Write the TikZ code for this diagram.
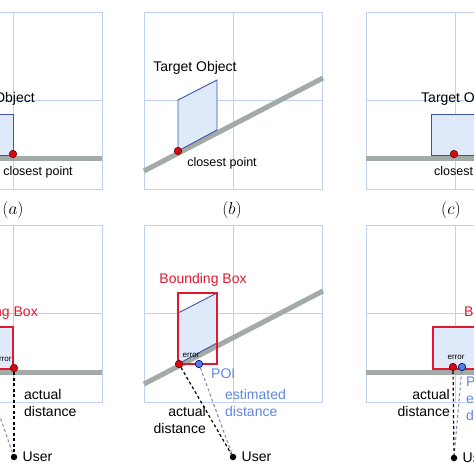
\documentclass[tikz,border=0pt]{standalone}
\usepackage{fontspec}
\setmainfont{Liberation Sans}
\usetikzlibrary{positioning}

\definecolor{gridBlue}{RGB}{192,208,242}
\definecolor{roadGray}{RGB}{163,171,167}
\definecolor{objFill}{RGB}{222,234,250}
\definecolor{objEdge}{RGB}{62,82,172}
\definecolor{boxRed}{RGB}{226,24,48}
\definecolor{dotRed}{RGB}{215,10,20}
\definecolor{dotBlue}{RGB}{80,125,232}
\definecolor{textBlue}{RGB}{95,135,225}
\definecolor{lineBlue}{RGB}{125,145,200}

\begin{document}
\begin{tikzpicture}[x=1pt,y=-1pt,
		every node/.style={inner sep=0pt,font=\fontsize{14}{17}\selectfont}]
	\tikzstyle{Frame}=[draw=gridBlue,line width=1pt]
	\tikzstyle{GridLine}=[draw=gridBlue,line width=0.8pt]
	\tikzstyle{Road}=[draw=roadGray,line width=5pt]
	\tikzstyle{Obj}=[fill=objFill,draw=objEdge,line width=0.9pt]
	\tikzstyle{BBox}=[draw=boxRed,line width=2.8pt]
	\tikzstyle{RedDot}=[circle,fill=dotRed,draw=red!45!black,line width=0.6pt,minimum size=7.5pt]
	\tikzstyle{BlueDot}=[circle,fill=dotBlue,draw=blue!45!black,line width=0.6pt,minimum size=7.5pt]
	\tikzstyle{UserDot}=[circle,fill=black,minimum size=6.5pt]
	\tikzstyle{ActualLine}=[draw=black,line width=1.2pt,dash pattern=on 3pt off 2.5pt]
	\tikzstyle{EstLine}=[draw=lineBlue,line width=1.1pt,dash pattern=on 3pt off 2.5pt]
	\tikzstyle{Small}=[font=\fontsize{12.5}{15}\selectfont]
	\tikzstyle{Tiny}=[font=\fontsize{8}{9}\selectfont]
	\tikzstyle{Caption}=[font=\fontsize{16}{18}\selectfont]

	\clip (0,0) rectangle (474,474);

	% panel frames with their middle grid lines
	\foreach \x in {-76,144,366}
	\foreach \y in {12,225} {
		\draw[GridLine] (\x+89,\y) -- (\x+89,\y+177);
		\draw[GridLine] (\x,\y+88) -- (\x+178,\y+88);
		\draw[Frame] (\x,\y) rectangle (\x+178,\y+177);
	}

	% (a) top
	\draw[Road] (-76,158) -- (102,158);
	\draw[Obj] (-40,114) rectangle (13,155.5);
	\node[RedDot] (closestA) at (13,154) {};
	\node[anchor=east] (objA) at (35,99) {Target Object};
	\node[Small] (closestTxtA) at (38,172) {closest point};

	% (b) top
	\draw[Road] (144,171) -- (323,78);
	\draw[Obj] (178,151) -- (178,100) -- (217,80) -- (217,130) -- cycle;
	\node[RedDot] (closestB) at (178,151) {};
	\node (objB) at (195,68) {Target Object};
	\node[Small] (closestTxtB) at (222,163) {closest point};

	% (c) top
	\draw[Road] (366,158) -- (544,158);
	\draw[Obj] (431,114) rectangle (495,155.5);
	\node[RedDot] (closestC) at (454,154) {};
	\node[anchor=west] (objC) at (421,99) {Target Object};
	\node[Small,anchor=west] (closestTxtC) at (434,172) {closest point};

	% captions
	\node[Caption] (capA) at (13,210) {$(a)$};
	\node[Caption] (capB) at (232,210) {$(b)$};
	\node[Caption] (capC) at (451,210) {$(c)$};

	% (a) bottom
	\draw[Road] (-76,372) -- (102,372);
	\fill[objFill] (-40,327) rectangle (13,369);
	\draw[BBox] (-40,327) rectangle (13,369);
	\node[anchor=east,text=boxRed] (boxTxtA) at (38,313) {Bounding Box};
	\node[UserDot] (userA) at (14,457) {};
	\node[RedDot] (actualA) at (14,368) {};
	\node[BlueDot] (poiA) at (-17,368) {};
	\draw[EstLine] (poiA) -- (userA);
	\draw[ActualLine] (actualA) -- (userA);
	\node[Tiny] (errA) at (3,359) {error};
	\node[anchor=west,align=left] (actualTxtA) at (24,403) {actual\\distance};
	\node[right=5pt of userA] (userTxtA) {User};

	% (b) bottom
	\draw[Road] (144,384) -- (323,291);
	\draw[Obj] (178,364) -- (178,313) -- (217,293) -- (217,343) -- cycle;
	\draw[BBox] (178,293) rectangle (217,364);
	\node[text=boxRed] (boxTxtB) at (203,280) {Bounding Box};
	\node[UserDot] (userB) at (233,457) {};
	\node[RedDot] (actualB) at (179,364) {};
	\node[BlueDot] (poiB) at (199,364) {};
	\draw[EstLine] (poiB) -- (userB);
	\draw[ActualLine] (actualB) -- (userB);
	\node[Tiny] (errB) at (191,355) {error};
	\node[anchor=west,text=textBlue] (poiTxtB) at (211,374) {POI};
	\node[anchor=west,align=left,text=textBlue] (estTxtB) at (225,403) {estimated\\distance};
	\node[anchor=east,align=right] (actualTxtB) at (206,420) {actual\\distance};
	\node[right=5pt of userB] (userTxtB) {User};

	% (c) bottom
	\draw[Road] (366,372) -- (544,372);
	\fill[objFill] (433,327) rectangle (495,369);
	\draw[BBox] (433,327) rectangle (495,369);
	\node[anchor=west,text=boxRed] (boxTxtC) at (464,313) {Bounding Box};
	\node[UserDot] (userC) at (454,458) {};
	\node[RedDot] (actualC) at (453,367) {};
	\node[BlueDot] (poiC) at (462,367) {};
	\draw[EstLine] (poiC) -- (userC);
	\draw[ActualLine] (actualC) -- (userC);
	\node[Tiny] (errC) at (456,357) {error};
	\node[anchor=east,align=right] (actualTxtC) at (450,403) {actual\\distance};
	\node[anchor=west,text=textBlue] (poiTxtC) at (466,382) {POI};
	\node[anchor=west,align=left,text=textBlue] (estTxtC) at (466,407) {estimated\\distance};
	\node[right=5pt of userC] (userTxtC) {User};
\end{tikzpicture}
\end{document}
